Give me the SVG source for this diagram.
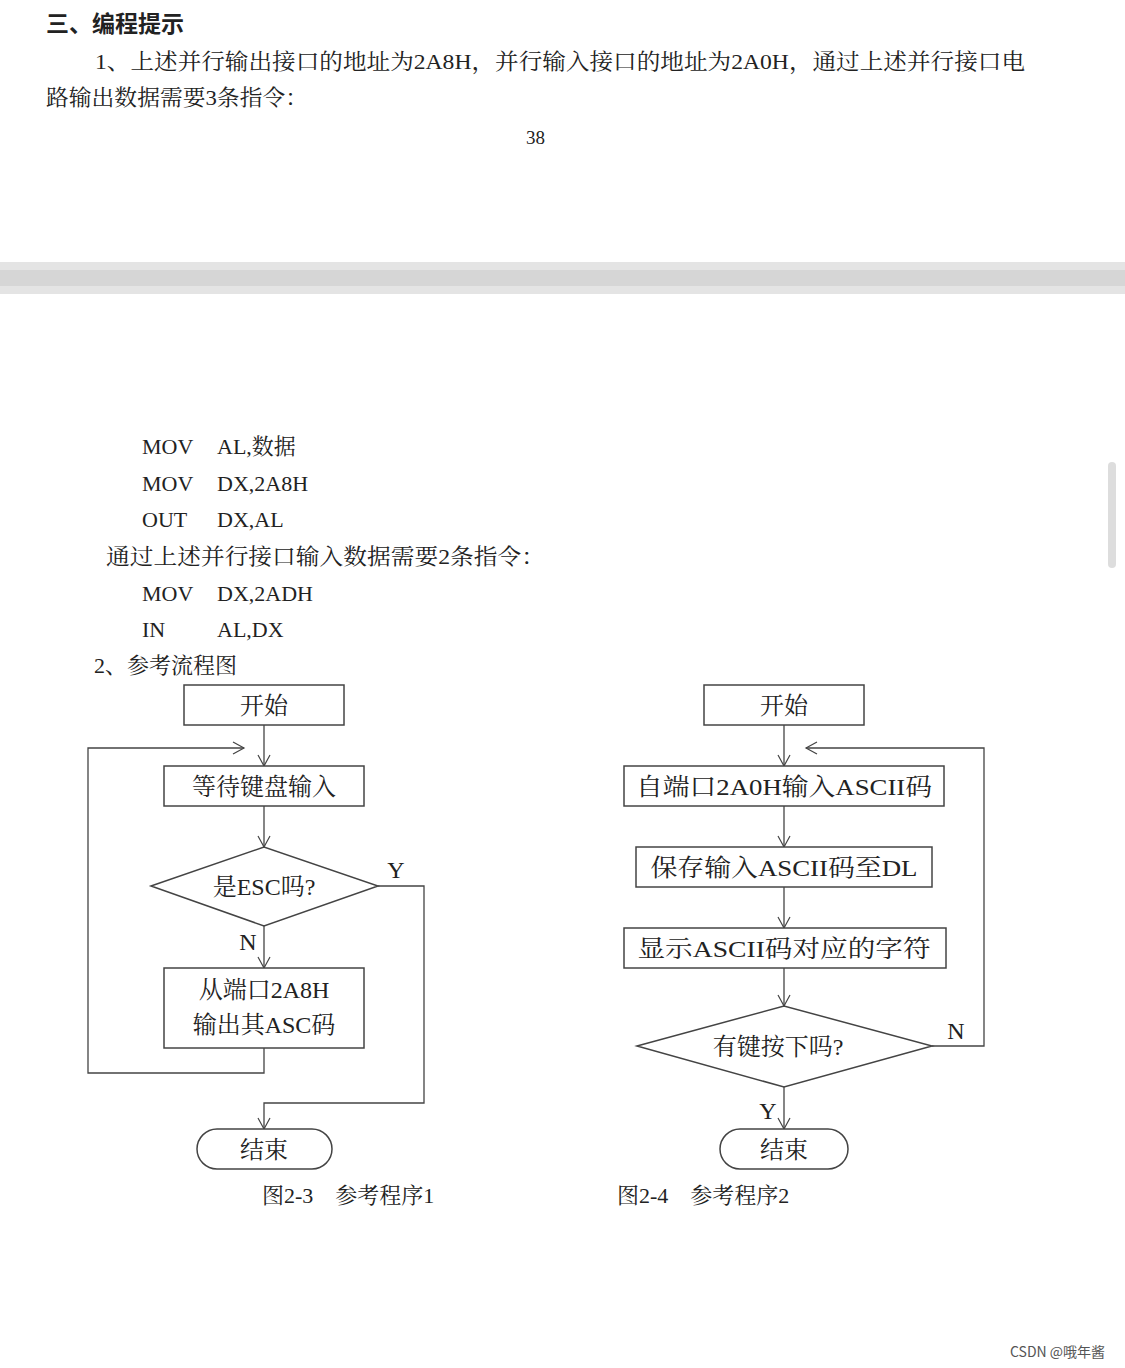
<svg xmlns="http://www.w3.org/2000/svg" width="1125" height="1368" viewBox="0 0 1125 1368">
<defs>
<marker id="a" markerWidth="14" markerHeight="14" refX="12" refY="7" orient="auto" markerUnits="userSpaceOnUse"><path d="M1,1 L12,7 L1,13" fill="none" stroke="#444" stroke-width="1.2"/></marker>
</defs>
<style>
text{font-family:"Liberation Serif","Noto Serif CJK SC","Noto Sans CJK SC",serif;fill:#222}
.t{font-size:22px}
.n{font-size:24px;text-anchor:middle}
.b{fill:#fff;stroke:#444;stroke-width:1.5}
.c{fill:none;stroke:#444;stroke-width:1.3}
</style>
<rect width="1125" height="1368" fill="#fff"/>
<text x="46" y="32" style="font-size:23px;font-weight:bold;font-family:'Noto Sans CJK SC',sans-serif">三、编程提示</text>
<text x="95" y="69" class="t" textLength="930" lengthAdjust="spacingAndGlyphs">1、上述并行输出接口的地址为2A8H，并行输入接口的地址为2A0H，通过上述并行接口电</text>
<text x="46" y="105" class="t" textLength="262" lengthAdjust="spacingAndGlyphs">路输出数据需要3条指令：</text>
<text x="526" y="144" style="font-size:19px">38</text>
<rect x="0" y="262" width="1125" height="32" fill="#e4e4e4"/>
<rect x="0" y="270" width="1125" height="16" fill="#d6d6d6"/>
<rect x="1108" y="462" width="8" height="106" rx="4" fill="#ddd"/>
<text x="142" y="454" class="t">MOV</text><text x="217" y="454" class="t">AL,数据</text>
<text x="142" y="491" class="t">MOV</text><text x="217" y="491" class="t">DX,2A8H</text>
<text x="142" y="527" class="t">OUT</text><text x="217" y="527" class="t">DX,AL</text>
<text x="106" y="564" class="t" textLength="439" lengthAdjust="spacingAndGlyphs">通过上述并行接口输入数据需要2条指令：</text>
<text x="142" y="601" class="t">MOV</text><text x="217" y="601" class="t">DX,2ADH</text>
<text x="142" y="637" class="t">IN</text><text x="217" y="637" class="t">AL,DX</text>
<text x="94" y="673" class="t">2、参考流程图</text>
<g id="connectors">
<path class="c" d="M264,725 V766" marker-end="url(#a)"/>
<path class="c" d="M264,806 V847" marker-end="url(#a)"/>
<path class="c" d="M264,926 V968" marker-end="url(#a)"/>
<path class="c" d="M264,1048 V1073 H88 V748 H244" marker-end="url(#a)"/>
<path class="c" d="M378,886 H424 V1103 H264 V1129" marker-end="url(#a)"/>
<path class="c" d="M784,725 V766" marker-end="url(#a)"/>
<path class="c" d="M784,806 V847" marker-end="url(#a)"/>
<path class="c" d="M784,887 V928" marker-end="url(#a)"/>
<path class="c" d="M784,968 V1006" marker-end="url(#a)"/>
<path class="c" d="M784,1087 V1129" marker-end="url(#a)"/>
<path class="c" d="M932,1046 H984 V748 H806" marker-end="url(#a)"/>
</g>
<g id="s1"><rect class="b" x="184" y="685" width="160" height="40"/><text x="264" y="714" class="n">开始</text></g>
<g id="w1"><rect class="b" x="164" y="766" width="200" height="40"/><text x="264" y="795" class="n">等待键盘输入</text></g>
<g id="d1"><polygon class="b" points="151,886 264,847 378,886 264,926"/><text x="264" y="895" class="n">是ESC吗?</text></g>
<g id="o1"><rect class="b" x="164" y="968" width="200" height="80"/><text x="264" y="998" class="n">从端口2A8H</text><text x="264" y="1033" class="n">输出其ASC码</text></g>
<g id="e1"><rect class="b" x="197" y="1129" width="135" height="40" rx="20"/><text x="264" y="1158" class="n">结束</text></g>
<text x="396" y="878" class="n">Y</text><text x="248" y="950" class="n">N</text>
<text x="262" y="1203" class="t">图2-3　参考程序1</text>
<g id="s2"><rect class="b" x="704" y="685" width="160" height="40"/><text x="784" y="714" class="n">开始</text></g>
<g id="r2"><rect class="b" x="624" y="766" width="320" height="40"/><text x="784" y="795" class="n" textLength="296" lengthAdjust="spacingAndGlyphs">自端口2A0H输入ASCII码</text></g>
<g id="k2"><rect class="b" x="636" y="847" width="296" height="40"/><text x="784" y="876" class="n" textLength="267" lengthAdjust="spacingAndGlyphs">保存输入ASCII码至DL</text></g>
<g id="x2"><rect class="b" x="624" y="928" width="322" height="40"/><text x="784" y="957" class="n" textLength="293" lengthAdjust="spacingAndGlyphs">显示ASCII码对应的字符</text></g>
<g id="d2"><polygon class="b" points="637,1046 784,1006 932,1046 784,1087"/><text x="778" y="1055" class="n">有键按下吗?</text></g>
<g id="e2"><rect class="b" x="720" y="1129" width="128" height="40" rx="20"/><text x="784" y="1158" class="n">结束</text></g>
<text x="956" y="1039" class="n">N</text><text x="768" y="1119" class="n">Y</text>
<text x="617" y="1203" class="t">图2-4　参考程序2</text>
<text x="1010" y="1357" style="font-size:14px;font-family:'Noto Sans CJK SC',sans-serif;fill:#555">CSDN @哦年酱</text>
</svg>
